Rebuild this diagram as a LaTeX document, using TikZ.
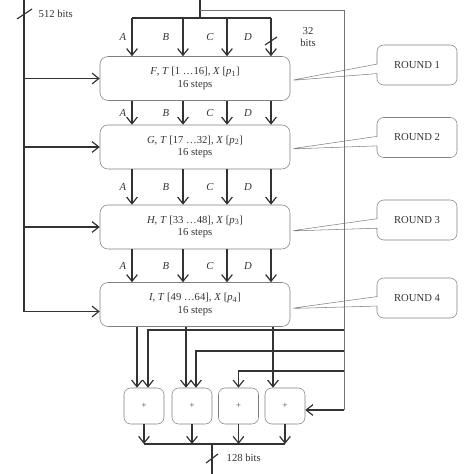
\documentclass[tikz,border=0pt]{standalone}
\usepackage{fontspec}
\setmainfont{Liberation Serif}
\usetikzlibrary{arrows.meta,shapes.callouts,calc}

\begin{document}
\begin{tikzpicture}[x=0.75pt,y=-0.75pt,
  >={Straight Barb[length=5pt,width=8pt]},
  font=\fontsize{8}{9.5}\selectfont,
  wire/.style={draw=black!80,line width=0.9pt},
  bus/.style={draw=black!55,line width=0.6pt},
  stage/.style={draw=black!50,rounded corners=6pt,minimum width=142.5pt,minimum height=33pt,align=center,text=black!80},
  roundbox/.style={rectangle callout,draw=black!50,rounded corners=5pt,minimum width=60pt,minimum height=30pt,text=black!80},
  adder/.style={draw=black!50,rounded corners=5pt,minimum width=30pt,minimum height=27pt,font=\fontsize{7}{8}\selectfont,text=black!70},
  lbl/.style={text=black!80,font=\fontsize{8}{9.5}\selectfont\itshape}]
          %\draw[help lines] (0,0) grid[step=50] (474,474);
          \useasboundingbox (0,0) rectangle (474,474);

          % the four rounds
          \node[stage](F) at (195,78.5) {\textit{F}, \textit{T} [1 …16], \textit{X} [\textit{p}\textsubscript{1}]\\16 steps};
          \node[stage](G) at (195,147) {\textit{G}, \textit{T} [17 …32], \textit{X} [\textit{p}\textsubscript{2}]\\16 steps};
          \node[stage](H) at (195,227) {\textit{H}, \textit{T} [33 …48], \textit{X} [\textit{p}\textsubscript{3}]\\16 steps};
          \node[stage](I) at (195,304.5) {\textit{I}, \textit{T} [49 …64], \textit{X} [\textit{p}\textsubscript{4}]\\16 steps};

          % round labels point at the right side of each round
          \coordinate (tipF) at ($(F.east)+(0,2)$);
          \coordinate (tipG) at ($(G.east)+(0,2)$);
          \coordinate (tipH) at ($(H.east)+(0,4)$);
          \coordinate (tipI) at ($(I.east)+(0,4)$);
          \node[roundbox,callout absolute pointer={(tipF)}](r1) at (417,65) {ROUND 1};
          \node[roundbox,callout absolute pointer={(tipG)}](r2) at (417,137.5) {ROUND 2};
          \node[roundbox,callout absolute pointer={(tipH)}](r3) at (417,220) {ROUND 3};
          \node[roundbox,callout absolute pointer={(tipI)}](r4) at (417,298) {ROUND 4};

          % adders
          \node[adder](s1) at (144,406) {+};
          \node[adder](s2) at (192,406) {+};
          \node[adder](s3) at (238.5,406) {+};
          \node[adder](s4) at (285,406) {+};

          % message input, 512 bits
          \coordinate (inL) at (24,0);
          \coordinate (Iin) at ($(I.west)+(0,7)$);
          \draw[wire,->] (inL) |- (Iin);
          \draw[wire,->] (F.west -| inL) -- (F.west);
          \draw[wire,->] (G.west -| inL) -- (G.west);
          \draw[wire,->] (H.west -| inL) -- (H.west);
          \draw[wire] (17,19) -- (32,9);
          \node[anchor=west,text=black!80](w512) at (34,14) {512 bits};

          % chaining value A B C D
          \coordinate (inT) at (200,0);
          \coordinate (cA) at (132,18);
          \coordinate (cB) at (183,18);
          \coordinate (cC) at (227,18);
          \coordinate (cD) at (271,18);
          \draw[wire] (inT) -- (inT |- cA);
          \draw[wire] (cA) -- (cD);
          \foreach \c in {cA,cB,cC,cD}
            \draw[wire,->] (\c) -- (\c |- F.north);
          \foreach \u/\v in {F/G,G/H,H/I}
            \foreach \c in {cA,cB,cC,cD}
              \draw[wire,->] (\c |- \u.south) -- (\c |- \v.north);
          \foreach \y in {37,113,187,266}
            \foreach \l/\x in {A/123,B/166,C/210,D/248}
              \node[lbl](lab\l\y) at (\x,\y) {\l};
          \draw[wire] (265,45) -- (277,37);
          \node[align=center,text=black!80](w32) at (308,37) {32\\bits};

          % feed forward
          \coordinate (fbT) at (200,10);
          \coordinate (fbR) at (344,10);
          \coordinate (fb4) at (344,410);
          \coordinate (fb1) at (344,330);
          \coordinate (fb2) at (344,351);
          \coordinate (fb3) at (344,371);
          \draw[bus] (fbT) -- (fbR) -- (fb4);
          \coordinate (s1a) at ($(s1.north)+(-7,0)$);
          \coordinate (s1b) at ($(s1.north)+(4,0)$);
          \coordinate (s2a) at ($(s2.north)+(-6,0)$);
          \coordinate (s2b) at ($(s2.north)+(4,0)$);
          \coordinate (s3b) at (s3.north);
          \coordinate (s4a) at ($(s4.north)+(-12,0)$);
          \draw[wire,->] (I.south -| s1a) -- (s1a);
          \draw[wire,->] (I.south -| s2a) -- (s2a);
          \draw[wire,->] (I.south -| s4a) -- (s4a);
          \draw[wire,->] (fb1) -| (s1b);
          \draw[wire,->] (fb2) -| (s2b);
          \draw[wire,->] (fb3) -| (s3b);
          \draw[wire,->] (fb4) -- (fb4 -| s4.east);

          % output, 128 bits
          \coordinate (outY) at (0,444);
          \coordinate (out) at (212,444);
          \coordinate (outB) at (212,474);
          \draw[wire,->] (s1.south) -- (s1.south |- outY);
          \draw[wire,->] (s2.south) -- (s2.south |- outY);
          \draw[wire,->] (s3.south) -- (s3.south |- outY);
          \draw[wire,->] (s4.south) -- (s4.south |- outY);
          \draw[wire] (s1.south |- outY) -- (s4.south |- outY);
          \draw[wire] (out) -- (outB);
          \draw[wire] (206,463) -- (218,454);
          \node[anchor=west,text=black!80](w128) at (222,458) {128 bits};
\end{tikzpicture}
\end{document}
